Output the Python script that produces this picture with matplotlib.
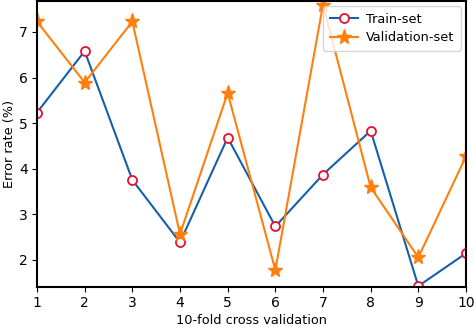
import matplotlib
matplotlib.use("Agg")
import matplotlib.pyplot as plt

# fold index and error rates (%)
folds = [1, 2, 3, 4, 5, 6, 7, 8, 9, 10]
train_err = [5.23, 6.58, 3.75, 2.38, 4.68, 2.73, 3.87, 4.83, 1.42, 2.14]
val_err = [7.23, 5.89, 7.23, 2.56, 5.66, 1.77, 7.60, 3.59, 2.05, 4.27]
yticks = [2, 3, 4, 5, 6, 7]

fig = plt.figure(figsize=(4.74, 3.27), dpi=100)
ax = fig.add_axes([37 / 474, 40 / 327, 429 / 474, 286 / 327])

ax.plot(folds, train_err, color="#1560a8", lw=1.5, marker="o", ms=6.5,
        mfc="white", mec="#e8102a", mew=1.3, label="Train-set")
ax.plot(folds, val_err, color="#ff7f0e", lw=1.5, marker="*", ms=11,
        label="Validation-set")

ax.set_xlim(1, 10)
ax.set_ylim(1.40, 7.68)
ax.set_xticks(folds)
ax.set_yticks(yticks)
ax.tick_params(labelsize=10, pad=3)
ax.set_xlabel("10-fold cross validation", fontsize=9.3, labelpad=3)
ax.set_ylabel("Error rate (%)", fontsize=9.3, labelpad=2)
for s in ax.spines.values():
    s.set_linewidth(1.5)
ax.legend(loc="upper right", fontsize=9.3, handlelength=2.2,
          borderpad=0.5, labelspacing=0.45, handletextpad=0.6,
          borderaxespad=0.4)

fig.savefig("out.png", dpi=100)
